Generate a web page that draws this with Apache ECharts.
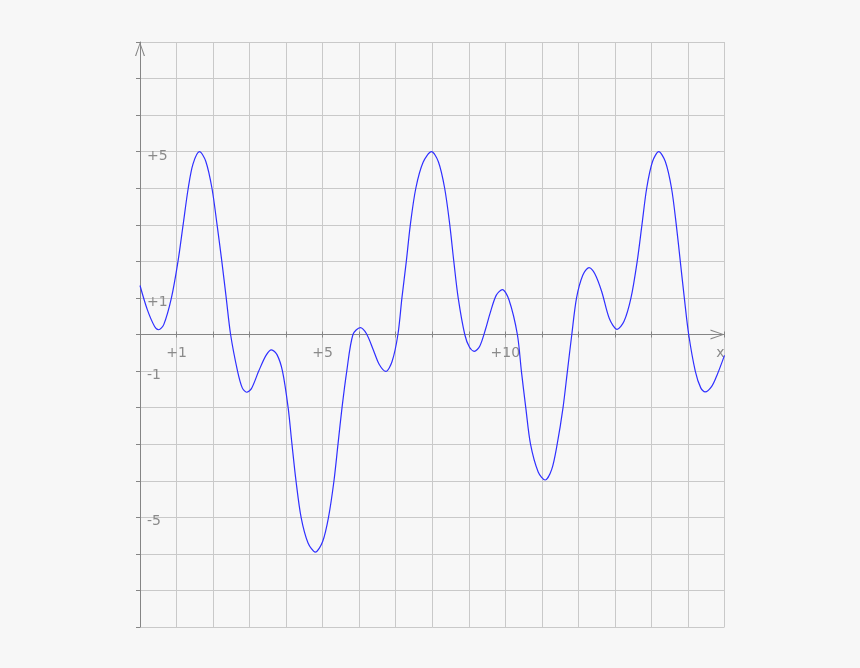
<!DOCTYPE html>
<html><head><meta charset="utf-8">
<script src="https://cdn.jsdelivr.net/npm/echarts@6/dist/echarts.min.js"></script>
<style>html,body{margin:0;padding:0;background:#f7f7f7;}#chart{width:860px;height:668px;}</style>
</head><body><div id="chart"></div>
<script>
// curve samples (grid-line crossings, turning points and a few in-between readings)
const xValues = [0.0,0.2,0.4,0.51,0.65,0.86,1.04,1.18,1.32,1.45,1.63,1.8,1.97,2.11,2.24,2.36,2.48,2.67,2.8,2.92,3.05,3.25,3.45,3.6,3.75,3.9,4.055,4.16,4.27,4.41,4.6,4.8,5.0,5.16,5.31,5.42,5.53,5.66,5.83,6.03,6.2,6.39,6.55,6.73,6.9,7.06,7.17,7.29,7.4,7.55,7.75,7.98,8.17,8.34,8.48,8.59,8.71,8.89,9.02,9.15,9.3,9.46,9.58,9.75,9.92,10.1,10.33,10.44,10.56,10.69,10.9,11.09,11.27,11.42,11.58,11.7,11.82,11.95,12.12,12.29,12.45,12.64,12.85,13.06,13.25,13.44,13.61,13.74,13.87,14.03,14.2,14.38,14.55,14.68,14.79,14.9,15.02,15.2,15.35,15.47,15.65,15.8,16.0];
const yValues = [1.34,0.68,0.22,0.13,0.27,1.0,2.0,3.0,4.0,4.66,5.0,4.74,4.0,3.0,2.0,1.0,0.0,-1.0,-1.46,-1.58,-1.48,-1.0,-0.57,-0.42,-0.55,-1.0,-2.0,-3.0,-4.0,-5.0,-5.7,-5.95,-5.66,-5.0,-4.0,-3.0,-2.0,-1.0,0.0,0.19,0.02,-0.43,-0.82,-1.01,-0.74,0.0,1.0,2.0,3.0,4.0,4.71,5.0,4.72,4.0,3.0,2.0,1.0,0.0,-0.35,-0.46,-0.32,0.15,0.57,1.07,1.23,0.95,0.0,-1.0,-2.0,-3.0,-3.76,-3.98,-3.69,-3.0,-2.0,-1.0,0.0,1.0,1.62,1.83,1.66,1.17,0.43,0.14,0.36,1.0,2.0,3.0,4.0,4.73,5.0,4.73,4.0,3.0,2.0,1.0,0.0,-1.0,-1.46,-1.57,-1.42,-1.1,-0.57];

// axis tick labels
const xLabelValues = [1, 5, 10, 16];
const xLabelTexts = ['+1', '+5', '+10', 'x'];
const yLabelValues = [5, 1, -1, -5];
const yLabelTexts = ['+5', '+1', '-1', '-5'];

const points = xValues.map((x, i) => [x, yValues[i]]);
const chevron = 'path://M5,0L10,14L8.8,14L5,2.4L1.2,14L0,14Z';
const axisColor = '#858585';
const gridColor = '#c9c9c9';
const textColor = '#8a8a8a';
const fontFamily = 'DejaVu Sans';
const zeroOffset = -292.5; // moves the x axis from the grid bottom up to y = 0

const chart = echarts.init(document.getElementById('chart'), null, {renderer: 'canvas'});
chart.setOption({
  animation: false,
  backgroundColor: '#f7f7f7',
  grid: {left: 140, top: 42, right: 135.5, bottom: 41, containLabel: false},
  xAxis: [{
    type: 'value', min: 0, max: 16, interval: 1, position: 'bottom', offset: zeroOffset,
    axisLine: {show: true, onZero: false, lineStyle: {color: axisColor, width: 1},
      symbol: ['none', chevron], symbolSize: [10, 14], symbolOffset: [0, -7]},
    axisTick: {show: true, inside: false, length: 3, lineStyle: {color: axisColor}},
    axisLabel: {
      show: true, margin: 12, color: textColor, fontSize: 14, fontFamily: fontFamily,
      showMinLabel: true, showMaxLabel: true, alignMaxLabel: 'right',
      formatter: v => { const i = xLabelValues.indexOf(v); return i >= 0 ? xLabelTexts[i] : ''; }
    },
    splitLine: {show: true, lineStyle: {color: gridColor, width: 1}}
  }, {
    type: 'value', min: 0, max: 16, interval: 1, position: 'bottom', offset: zeroOffset,
    axisLine: {show: false, onZero: false},
    axisTick: {show: true, inside: true, length: 3, lineStyle: {color: axisColor}},
    axisLabel: {show: false},
    splitLine: {show: false}
  }],
  yAxis: {
    type: 'value', min: -8, max: 8, interval: 1,
    axisLine: {show: true, onZero: false, lineStyle: {color: axisColor, width: 1},
      symbol: ['none', chevron], symbolSize: [10, 14], symbolOffset: [0, -7]},
    axisTick: {show: true, inside: false, length: 4, lineStyle: {color: axisColor}},
    axisLabel: {
      show: true, inside: true, margin: 7, color: textColor, fontSize: 14, fontFamily: fontFamily,
      verticalAlign: 'top', lineHeight: 9,
      formatter: v => { const i = yLabelValues.indexOf(v); return i >= 0 ? yLabelTexts[i] : ''; }
    },
    splitLine: {show: true, lineStyle: {color: gridColor, width: 1}}
  },
  series: [{
    type: 'line', xAxisIndex: 0, yAxisIndex: 0,
    data: points, showSymbol: false, smooth: 0.3,
    lineStyle: {color: '#2f2fff', width: 1.2}
  }]
});
</script></body></html>
